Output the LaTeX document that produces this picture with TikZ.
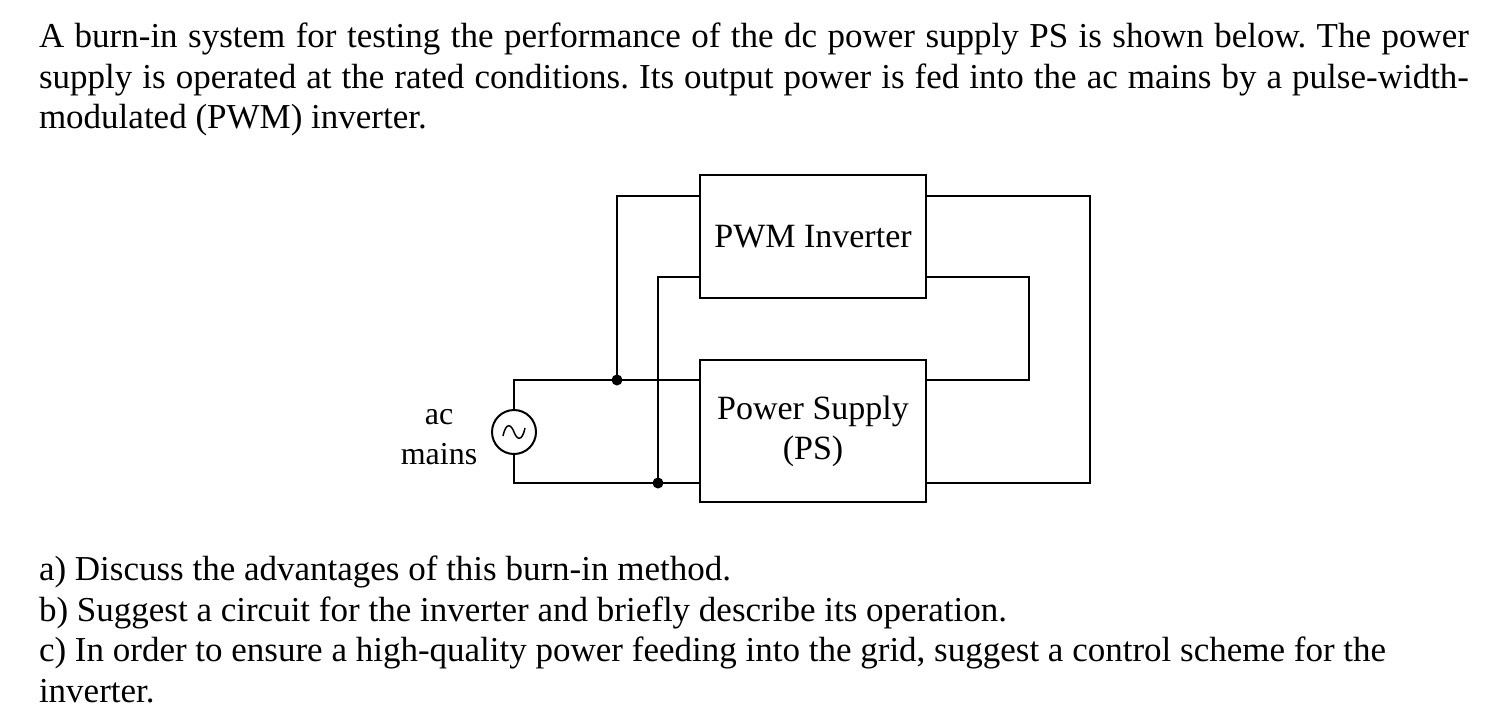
\documentclass[tikz,border=0pt]{standalone}
\usepackage{fontspec}
\setmainfont{Liberation Serif}
\frenchspacing
\begin{document}
\begin{tikzpicture}[x=1pt,y=-1pt,line width=2pt,
  box/.style={draw,minimum width=226pt,font=\fontsize{34}{40}\selectfont,align=center,inner sep=0pt},
  dot/.style={circle,fill,inner sep=0pt,minimum size=11pt},
  txt/.style={anchor=north west,inner sep=0pt,font=\fontsize{35}{40.5}\selectfont}]
\useasboundingbox (0,0) rectangle (1506,724);
\node[txt,text width=1430pt,align=justify] (intro) at (38,22) {A burn-in system for testing the performance of the dc power supply PS is shown below. The power\linebreak supply is operated at the rated conditions. Its output power is fed into the ac mains by a pulse-width-\linebreak modulated (PWM) inverter.};
\node[txt,align=left] (q) at (38,555) {a) Discuss the advantages of this burn-in method.\\ b) Suggest a circuit for the inverter and briefly describe its operation.\\ c) In order to ensure a high-quality power feeding into the grid, suggest a control scheme for the\\ inverter.};
\node[box,minimum height=123pt] (pwm) at (813,236.5) {PWM Inverter};
\node[box,minimum height=142pt] (ps) at (813,431) {Power Supply\\(PS)};
\node[draw,circle,minimum size=44pt,inner sep=0pt] (src) at (514,432) {};
\draw[line width=1.5pt] (503,436) .. controls (506,422) and (511,424) .. (514,432) .. controls (517,440) and (522,442) .. (525,428);
\node[font=\fontsize{32}{40}\selectfont,align=center] (lbl) at (439,437) {ac\\mains};
\coordinate (d1) at (617,380);
\coordinate (d2) at (658,483);
\draw (src.north) |- (d1) -- (ps.west |- d1);
\draw (src.south) |- (d2) -- (ps.west |- d2);
\draw (d1) |- (pwm.west |- 0,196);
\draw (d2) |- (pwm.west |- 0,277);
\draw (pwm.east |- 0,196) -- (1090,196) |- (ps.east |- d2);
\draw (pwm.east |- 0,277) -- (1029,277) |- (ps.east |- d1);
\node[dot] at (d1) {};
\node[dot] at (d2) {};
\end{tikzpicture}
\end{document}
